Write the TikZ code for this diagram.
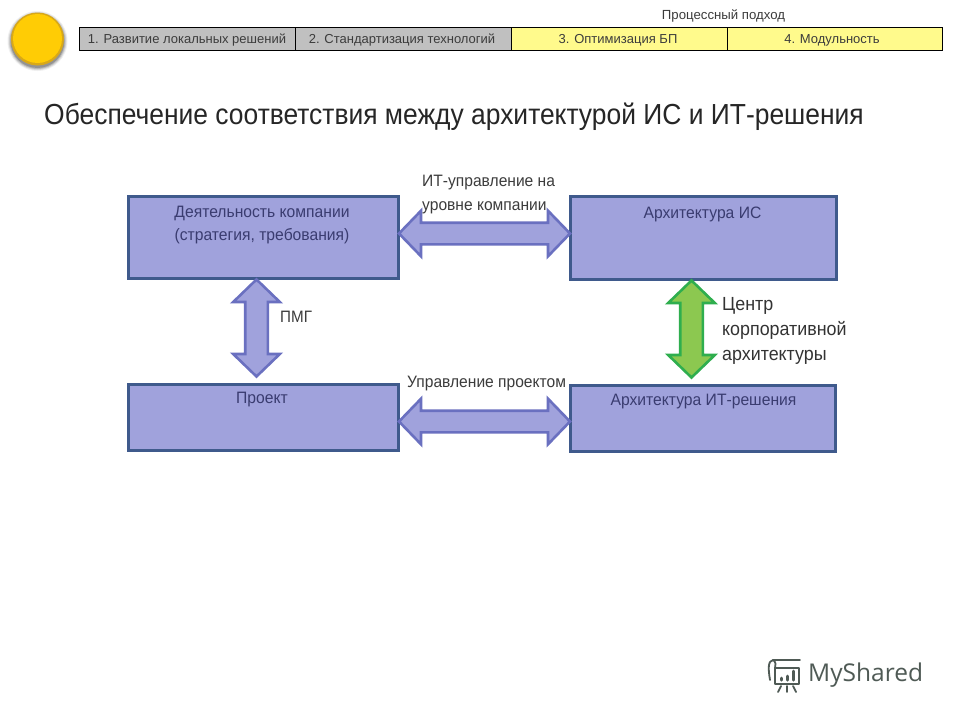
\documentclass[tikz,border=0pt]{standalone}
\usepackage{fontspec}
\setmainfont{Liberation Sans}
\newfontfamily\logofont{Open Sans}
\usetikzlibrary{shapes.arrows,calc}
\definecolor{boxfill}{HTML}{A0A2DC}
\definecolor{boxline}{HTML}{3F5A8C}
\definecolor{arrline}{HTML}{6A70C0}
\definecolor{grnfill}{HTML}{8CC850}
\definecolor{grnline}{HTML}{2FAE4E}
\definecolor{boxtext}{HTML}{3A3C70}
\definecolor{txt}{HTML}{3C3C3C}
\definecolor{barG}{HTML}{C0C0C0}
\definecolor{barY}{HTML}{FFFA8C}
\definecolor{logoc}{HTML}{4F5A55}
\definecolor{sunmid}{HTML}{FFCC05}
\definecolor{sunedge}{HTML}{D8A818}
\newcommand{\nar}[2]{\scalebox{#1}[1]{#2}}
\tikzset{
  x=1pt,y=-1pt,
  bluebox/.style={draw=boxline,fill=boxfill,line width=3pt,anchor=north west,inner sep=0pt},
  boxlabel/.style={text=boxtext,font=\fontsize{16.5}{23}\selectfont,align=center,inner sep=0pt},
  dblarrow/.style={shape=double arrow,draw=arrline,fill=boxfill,line width=2.6pt,inner sep=0pt,
     double arrow head extend=12pt,double arrow head indent=0pt,double arrow tip angle=92},
  grnarrow/.style={dblarrow,draw=grnline,fill=grnfill},
  barcell/.style={draw=black,line width=1pt,anchor=north west,inner sep=0pt,minimum height=23pt,
     text=txt,font=\fontsize{13}{15}\selectfont},
  plain/.style={text=txt,inner sep=0pt,align=left},
}
\begin{document}
\begin{tikzpicture}
\useasboundingbox (0,0) rectangle (960,720);
\fill[white] (0,0) rectangle (960,720);
% sun
\foreach \r/\o in {30/.06,29/.10,28/.14,27/.2}{
  \fill[black,opacity=\o] (37.5,41) circle[radius=\r pt];
}
\node[circle,minimum size=53pt,inner sep=0pt,fill=sunedge] (sunA) at (37.5,39) {};
\node[circle,minimum size=49pt,inner sep=0pt,fill=sunmid] (sunB) at (37.5,38.5) {};
% top bar
\node[barcell,fill=barG,minimum width=216pt] (b1) at (79,27) {};
\node[barcell,fill=barG,minimum width=216pt] (b2) at (295,27) {};
\node[barcell,fill=barY,minimum width=216pt] (b3) at (511,27) {};
\node[barcell,fill=barY,minimum width=215pt] (b4) at (727,27) {};
\node[barcell,draw=none,minimum height=0pt,anchor=center] (t1) at (187,40) {1. Развитие локальных решений};
\node[barcell,draw=none,minimum height=0pt,anchor=center] (t2) at (402,40) {2. Стандартизация технологий};
\node[barcell,draw=none,minimum height=0pt,anchor=center] (t3) at (618,40) {3. Оптимизация БП};
\node[barcell,draw=none,minimum height=0pt,anchor=center] (t4) at (832,40) {4. Модульность};
\node[plain,font=\fontsize{13.2}{15}\selectfont] (proc) at (723.5,15.5) {Процессный подход};
% title
\node[plain,text=black!85,anchor=west,font=\fontsize{29}{32}\selectfont] (title) at (44,117)
  {\nar{.911}{Обеспечение соответствия между архитектурой ИС и ИТ-решения}};
% boxes
\node[bluebox,minimum width=270pt,minimum height=82pt] (act) at (127,195) {};
\node[bluebox,minimum width=266pt,minimum height=83pt] (isa) at (569,195) {};
\node[bluebox,minimum width=270pt,minimum height=66pt] (prj) at (127,383) {};
\node[bluebox,minimum width=265pt,minimum height=66pt] (ita) at (569,384) {};
\node[boxlabel] (actT) at (262,225) {\nar{.95}{Деятельность компании}\\\nar{.95}{(стратегия, требования)}};
\node[boxlabel] (isaT) at (702.5,214) {\nar{.95}{Архитектура ИС}};
\node[boxlabel] (prjT) at (262,400) {\nar{.95}{Проект}};
\node[boxlabel] (itaT) at (703.5,402) {\nar{.95}{Архитектура ИТ-решения}};
% arrows
\node[dblarrow,minimum height=171pt,yshift=4.25pt] (a1) at ($(act.east)!.5!(isa.west)$) {\rule{0pt}{19pt}};
\node[dblarrow,minimum height=171pt,yshift=-3.5pt] (a2) at ($(prj.east)!.5!(ita.west)$) {\rule{0pt}{19pt}};
\node[dblarrow,shape border rotate=90,minimum height=97pt] (a3) at ($(act.south)!.5!(prj.north)+(-7,-3.5)$) {\rule{20pt}{0pt}};
\node[grnarrow,shape border rotate=90,minimum height=97pt] (a4) at ($(isa.south)!.5!(ita.north)+(-11.75,-3.5)$) {\rule{20pt}{0pt}};
% arrow labels
\node[plain,anchor=west,align=left,font=\fontsize{16.5}{24}\selectfont] (l1) at (422,195)
  {\nar{.945}{ИТ-управление на}\\\nar{.945}{уровне компании}};
\node[plain,anchor=west,font=\fontsize{16.5}{18}\selectfont] (l2) at (407,384) {\nar{.945}{Управление проектом}};
\node[plain,anchor=west,font=\fontsize{16.5}{18}\selectfont] (l3) at (280,317) {\nar{.92}{ПМГ}};
\node[plain,anchor=west,align=left,text=black!80,font=\fontsize{19}{25}\selectfont] (l4) at (722,331)
  {\nar{.94}{Центр}\\\nar{.94}{корпоративной}\\\nar{.94}{архитектуры}};
% logo
\begin{scope}[draw=logoc,line width=1.8pt,line cap=round,line join=round]
\draw (770,680) .. controls (768,668) and (768,661) .. (773,660) -- (800,660);
\draw (773,660) .. controls (776,662) and (776,665) .. (775,668);
\draw[fill=white] (775,668) rectangle (799,684);
\draw[line width=3pt] (781,680) -- (781,678) (787,680) -- (787,676) (793,680) -- (793,671);
\draw (781,686) -- (778,692) (787,686) -- (787,692) (793,686) -- (796,692);
\end{scope}
\node[anchor=west,inner sep=0pt,text=logoc,font=\logofont\fontsize{24.5}{30}\selectfont] (logo) at (808,675) {MyShared};
\end{tikzpicture}
\end{document}
